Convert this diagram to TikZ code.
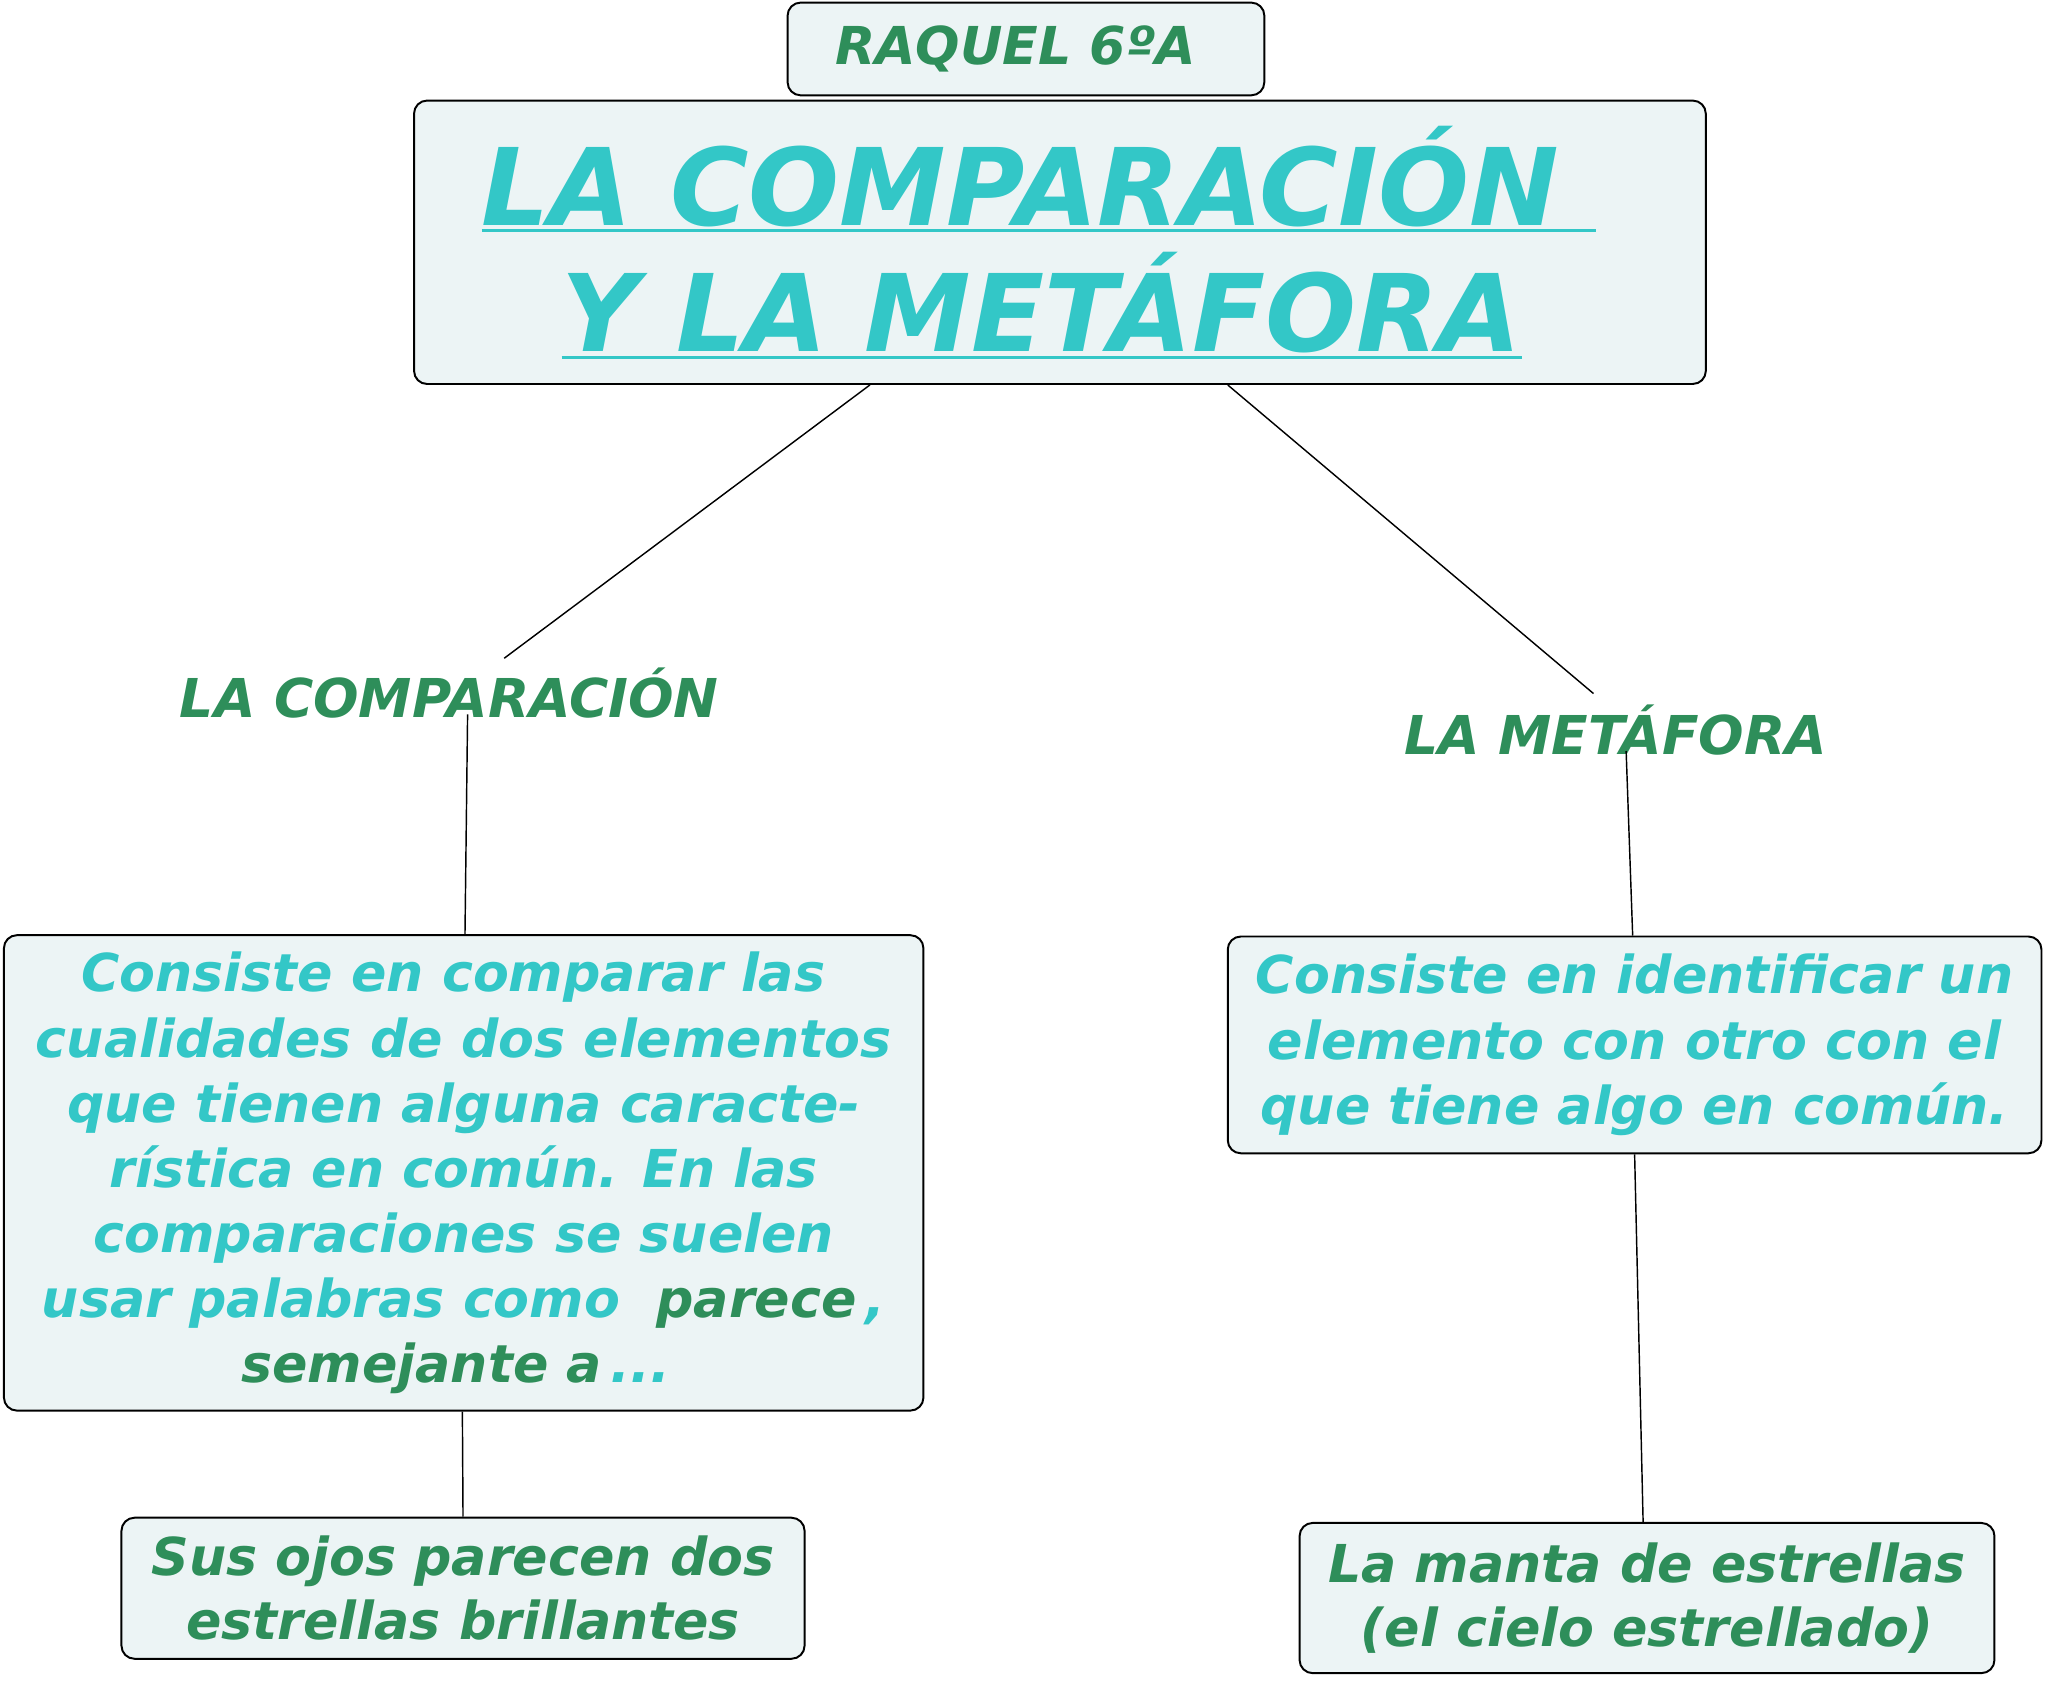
\documentclass[tikz,border=0pt]{standalone}
\usepackage{fontspec}
\setmainfont{DejaVu Sans}[BoldItalicFont={DejaVu Sans Bold Oblique}]
\definecolor{mapteal}{RGB}{51,199,199}
\definecolor{mapgreen}{RGB}{46,142,90}
\definecolor{mapfill}{RGB}{236,244,245}
% underlined title line
\newcommand\titleline[1]{\setbox0=\hbox{#1}\rlap{\color{mapteal}\rule[-2.6pt]{\wd0}{1pt}}\box0}
\begin{document}
\begin{tikzpicture}[x=0.5pt,y=-0.5pt,
  box/.style={draw=black,line width=0.75pt,fill=mapfill,rounded corners=5pt,align=center,inner sep=0pt},
  label/.style={text=mapgreen,inner sep=0pt,font=\bfseries\itshape\fontsize{20.5}{25}\selectfont},
  link/.style={line width=0.55pt}]

\useasboundingbox (0,0) rectangle (1568,1288);

\node[box,minimum width=182.5pt,minimum height=35.5pt,text=mapgreen,font=\bfseries\itshape\fontsize{20}{25}\selectfont]
  (raquel) at (785.5,37.5) {\hspace*{-8pt}RAQUEL 6ºA};
\node[box,minimum width=494.5pt,minimum height=108.5pt,text=mapteal,font=\bfseries\itshape\fontsize{41}{48.5}\selectfont]
  (title) at (811.5,185.5) {\vspace*{2pt}\titleline{LA COMPARACIÓN\ }\hspace*{16pt}\\[0pt]\titleline{Y LA METÁFORA}\hspace*{14pt}};

\node[label] (comp) at (344,531) {LA COMPARACIÓN};
\node[label] (meta) at (1237,559) {LA METÁFORA};

\node[box,minimum width=352pt,minimum height=182pt,text=mapteal,font=\bfseries\itshape\fontsize{20}{24.9}\selectfont]
  (defcomp) at (355,898) {Consiste en comparar las\hspace*{8pt}\\cualidades de dos elementos\hspace*{6pt}\\que tienen alguna caracte-\hspace*{6pt}\\rística en común. En las\hspace*{6pt}\\comparaciones se suelen\hspace*{6pt}\\usar palabras como \ \textcolor{mapgreen}{parece}\,,\hspace*{6pt}\\\textcolor{mapgreen}{semejante a}\,...\hspace*{6pt}};
\node[box,minimum width=311.5pt,minimum height=83pt,text=mapteal,font=\bfseries\itshape\fontsize{20}{25}\selectfont]
  (defmeta) at (1251.5,800) {Consiste en identificar un\\elemento con otro con el\\que tiene algo en común.};

\node[box,minimum width=261.5pt,minimum height=54pt,text=mapgreen,font=\bfseries\itshape\fontsize{20}{24.5}\selectfont]
  (excomp) at (354.5,1216) {Sus ojos parecen dos\\estrellas brillantes};
\node[box,minimum width=266pt,minimum height=57.5pt,text=mapgreen,font=\bfseries\itshape\fontsize{20}{24.5}\selectfont]
  (exmeta) at (1261,1223.5) {La manta de estrellas\\(el cielo estrellado)};

\draw[link] ([shift={(-145.5,0)}]title.south) -- ([shift={(42,-27)}]comp.center);
\draw[link] ([shift={(128.5,0)}]title.south) -- ([shift={(-17,-28)}]meta.center);
\draw[link] ([shift={(14,16)}]comp.center) -- ([shift={(1,0)}]defcomp.north);
\draw[link] ([shift={(8,16)}]meta.center) -- ([shift={(-1.5,0)}]defmeta.north);
\draw[link] ([shift={(-1,0)}]defcomp.south) -- (excomp.north);
\draw[link] (defmeta.south) -- ([shift={(-3,0)}]exmeta.north);

\end{tikzpicture}
\end{document}
